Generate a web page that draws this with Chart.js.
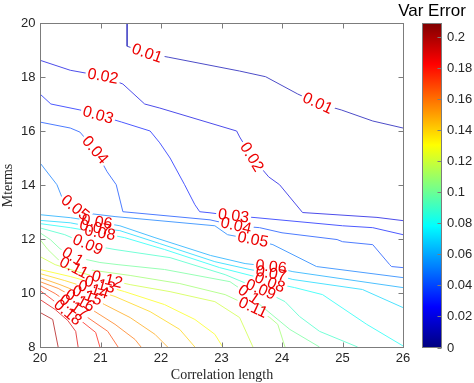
<!DOCTYPE html>
<html><head><meta charset="utf-8">
<script src="https://cdn.jsdelivr.net/npm/chart.js@4/dist/chart.umd.min.js"></script>
<style>html,body{margin:0;padding:0;background:#fff;}canvas{display:block;}</style>
</head><body>
<canvas id="c" width="474" height="383"></canvas>
<script>
// ---- data ----
const xTicks = [20, 21, 22, 23, 24, 25, 26];
const yTicks = [8, 10, 12, 14, 16, 18, 20];
const cbarTicks = [0, 0.02, 0.04, 0.06, 0.08, 0.1, 0.12, 0.14, 0.16, 0.18, 0.2];
const cbarTickLabels = ['0', '0.02', '0.04', '0.06', '0.08', '0.1', '0.12', '0.14', '0.16', '0.18', '0.2'];
const cbarMax = 0.209;
const xTitle = 'Correlation length';
const yTitle = 'Mterms';
const cbarTitle = 'Var Error';
const levels = [0.01, 0.02, 0.03, 0.04, 0.05, 0.06, 0.07, 0.08, 0.09, 0.10,
                0.11, 0.12, 0.13, 0.14, 0.15, 0.16, 0.17, 0.18, 0.19, 0.20];

const c01 = [[21.44,20],[21.44,19.14],[21.77,18.88],[22.13,18.73],[23.30,18.22],[23.73,18.01],[24.26,17.37],[24.59,17.03],[24.98,16.78],[25.50,16.37],[26,16.11]];
const c02 = [[20,18.62],[20.50,18.25],[21.04,18.03],[21.37,17.74],[21.73,17.00],[21.98,16.85],[23.25,16.00],[23.30,15.78],[23.50,15.04],[23.78,14.30],[23.96,14.01],[24.34,12.98],[25.57,12.80],[26,12.68]];
const c03 = [[20,17.37],[20.18,17.00],[20.66,16.78],[20.96,16.59],[21.35,16.33],[21.82,16.00],[21.98,15.56],[22.15,15.00],[22.39,14.01],[22.56,13.27],[22.64,13.01],[22.81,12.97],[23.20,12.86],[23.57,12.79],[25.00,12.49],[25.50,12.42],[26,12.16]];
const c04 = [[20,16.33],[20.50,16.11],[20.66,15.96],[20.91,15.30],[21.11,14.49],[21.26,14.01],[21.37,13.01],[22.81,12.71],[23.24,12.49],[23.63,12.42],[24.00,12.23],[24.91,11.98],[25.00,11.90],[25.50,11.79],[25.78,11.05],[25.81,10.98],[26,10.94]];
const c05 = [[20,14.82],[20.28,14.01],[20.36,13.56],[20.58,13.16],[20.83,12.94],[21.24,12.83],[22.89,12.49],[23.10,12.16],[23.52,11.98],[23.85,11.79],[24.57,10.98],[26,10.57]];
const c06 = [[20,12.90],[20.50,12.79],[20.94,12.64],[21.32,12.49],[21.90,12.05],[22.82,11.39],[23.39,11.09],[23.82,10.98],[24.18,10.79],[26,10.20]];
const c07 = [[20,12.69],[20.50,12.60],[20.91,12.42],[21.32,12.31],[21.98,11.83],[22.89,11.16],[23.47,10.87],[23.82,10.72],[24.18,10.50],[25.33,10.13],[26,9.46]];
const c08 = [[20,12.57],[20.50,12.42],[20.99,12.23],[21.40,12.05],[22.06,11.61],[22.97,10.94],[23.55,10.61],[23.80,10.39],[24.21,10.20],[24.67,9.94],[25.40,8.84],[26,8.04]];
const c09 = [[20,12.41],[20.41,12.16],[20.79,11.79],[21.24,11.61],[22.15,11.31],[23.06,10.68],[23.65,10.13],[24.05,9.68],[24.29,9.13],[24.62,8.58],[25.25,8]];
const c10 = [[20,12.23],[20.17,11.98],[20.33,11.64],[20.54,11.35],[20.99,11.13],[21.29,11.05],[22.06,10.87],[23.14,10.42],[23.45,9.94],[23.67,9.50],[24.13,8.65],[24.62,8]];
const c11 = [[20,11.98],[20.13,11.61],[20.30,11.24],[20.56,10.94],[20.91,10.83],[21.49,10.65],[22.31,10.35],[23.06,9.94],[23.52,9.46],[23.80,9.09],[23.93,8.84],[24.05,8]];
const c12 = [[20,11.35],[20.25,11.05],[20.66,10.76],[21.11,10.50],[21.49,10.31],[22.15,10.05],[22.89,9.68],[23.30,9.09],[23.52,8]];
const c13 = [[20,10.87],[20.50,10.61],[20.99,10.31],[21.40,10.05],[22.06,9.57],[22.56,9.02],[22.89,8.47],[23.02,8]];
const c14 = [[20,10.72],[20.41,10.46],[20.88,10.13],[21.24,9.87],[21.82,9.31],[22.31,8.65],[22.56,8]];
const c15 = [[20,10.57],[20.33,10.31],[20.78,9.91],[21.07,9.57],[21.49,9.09],[21.90,8.47],[22.11,8]];
const c16 = [[20,10.42],[20.30,10.17],[20.66,9.72],[20.91,9.31],[21.24,8.84],[21.57,8.28],[21.67,8]];
const c17 = [[20,10.28],[20.25,9.98],[20.56,9.50],[20.79,9.09],[21.12,8.58],[21.29,8]];
const c18 = [[20,10.09],[20.20,9.76],[20.46,9.28],[20.69,8.95],[20.92,8.54],[20.99,8]];
const c19 = [[20,9.76],[20.25,9.39],[20.46,8.98],[20.59,8.58],[20.63,8]];
const c20 = [[20,9.28],[20.21,9.02],[20.30,8]];
const contourLines = [c01,c02,c03,c04,c05,c06,c07,c08,c09,c10,c11,c12,c13,c14,c15,c16,c17,c18,c19,c20];

// contour label anchors: [level, x, y]
const labelAnchors = [
  [0.01,21.77,18.88],[0.01,24.59,17.03],
  [0.02,21.04,18.03],[0.02,23.50,15.04],
  [0.03,20.96,16.59],[0.03,23.20,12.86],
  [0.04,20.91,15.30],[0.04,23.24,12.49],
  [0.05,20.58,13.16],[0.05,23.52,11.98],
  [0.06,20.94,12.64],[0.06,23.82,10.98],
  [0.07,20.91,12.42],[0.07,23.82,10.72],
  [0.08,20.99,12.23],[0.08,23.80,10.39],
  [0.09,20.79,11.79],[0.09,23.65,10.13],
  [0.10,20.54,11.35],[0.10,23.45,9.94],
  [0.11,20.56,10.94],[0.11,23.52,9.46],
  [0.12,21.11,10.50],[0.13,20.99,10.31],[0.14,20.88,10.13],
  [0.15,20.78,9.91],[0.16,20.66,9.72],[0.17,20.56,9.50],[0.18,20.46,9.28]
];

// ---- helpers ----
function jet(t){
  t = Math.max(0, Math.min(1, t));
  const f = v => Math.max(0, Math.min(1, v));
  return [f(1.5-Math.abs(4*t-3)), f(1.5-Math.abs(4*t-2)), f(1.5-Math.abs(4*t-1))].map(v => Math.round(v*255));
}
function rgb(a){ return 'rgb(' + a.join(',') + ')'; }
function soft(a, k){ return a.map(v => Math.round(v + (255 - v) * k)); }
const LABEL_FONT = '16px "Liberation Sans", Arial, sans-serif';
function levelIndex(l){ return levels.findIndex(v => Math.abs(v-l) < 1e-9); }

function labelGeoms(chart, idx){
  const xs = chart.scales.x, ys = chart.scales.y, ctx = chart.ctx;
  const pts = contourLines[idx].map(p => [xs.getPixelForValue(p[0]), ys.getPixelForValue(p[1])]);
  const out = [];
  labelAnchors.forEach(a => {
    if (levelIndex(a[0]) !== idx) return;
    const px = xs.getPixelForValue(a[1]), py = ys.getPixelForValue(a[2]);
    let best = 1e9, ang = 0;
    for (let i = 0; i < pts.length-1; i++){
      const [x1,y1] = pts[i], [x2,y2] = pts[i+1];
      const dx = x2-x1, dy = y2-y1, L2 = dx*dx+dy*dy || 1;
      let t = ((px-x1)*dx + (py-y1)*dy)/L2; t = Math.max(0, Math.min(1, t));
      const qx = x1+t*dx, qy = y1+t*dy, d = Math.hypot(px-qx, py-qy);
      if (d < best){ best = d; ang = Math.atan2(dy, dx); }
    }
    if (ang > Math.PI/2) ang -= Math.PI;
    if (ang < -Math.PI/2) ang += Math.PI;
    const text = String(a[0]);
    ctx.save(); ctx.font = LABEL_FONT; const w = ctx.measureText(text).width + 4; ctx.restore();
    out.push({px, py, ang, text, w, h: 14});
  });
  return out;
}

const contourLabels = {
  id: 'contourLabels',
  beforeDatasetDraw(chart, args){
    const ctx = chart.ctx;
    const g = labelGeoms(chart, args.index);
    ctx.save();
    if (!g.length) return;
    ctx.beginPath();
    ctx.rect(0, 0, chart.width, chart.height);
    g.forEach(o => {
      const c = Math.cos(o.ang), s = Math.sin(o.ang), hw = o.w/2, hh = o.h/2;
      const corners = [[-hw,-hh],[-hw,hh],[hw,hh],[hw,-hh]].map(([u,v]) => [o.px + u*c - v*s, o.py + u*s + v*c]);
      ctx.moveTo(corners[0][0], corners[0][1]);
      for (let k = 1; k < 4; k++) ctx.lineTo(corners[k][0], corners[k][1]);
      ctx.closePath();
    });
    ctx.clip('evenodd');
  },
  afterDatasetDraw(chart){ chart.ctx.restore(); },
  afterDatasetsDraw(chart){
    const ctx = chart.ctx;
    ctx.save();
    ctx.font = LABEL_FONT; ctx.fillStyle = 'rgb(236,0,0)';
    ctx.textAlign = 'center'; ctx.textBaseline = 'middle';
    levels.forEach((l, i) => {
      labelGeoms(chart, i).forEach(o => {
        ctx.save(); ctx.translate(o.px, o.py); ctx.rotate(o.ang);
        ctx.fillText(o.text, 0, 0.5); ctx.restore();
      });
    });
    ctx.restore();
  }
};

const frame = {
  id: 'frame',
  afterDraw(chart){
    const ctx = chart.ctx, a = chart.chartArea, xs = chart.scales.x, ys = chart.scales.y;
    const L = Math.round(a.left)+0.5, R = Math.round(a.right)+0.5, T = Math.round(a.top)+0.5, B = Math.round(a.bottom)+0.5;
    ctx.save();
    ctx.strokeStyle = '#7c7c7c'; ctx.lineWidth = 1;
    ctx.strokeRect(L, T, R-L, B-T);
    ctx.beginPath();
    const tl = 5;
    xTicks.forEach(v => { const p = Math.round(xs.getPixelForValue(v))+0.5;
      ctx.moveTo(p, B); ctx.lineTo(p, B-tl); ctx.moveTo(p, T); ctx.lineTo(p, T+tl); });
    yTicks.forEach(v => { const p = Math.round(ys.getPixelForValue(v))+0.5;
      ctx.moveTo(L, p); ctx.lineTo(L+tl, p); ctx.moveTo(R, p); ctx.lineTo(R-tl, p); });
    ctx.stroke();

    ctx.fillStyle = '#262626';
    ctx.font = '13px "Liberation Sans", Arial, sans-serif';
    ctx.textAlign = 'center'; ctx.textBaseline = 'middle';
    xTicks.forEach(v => ctx.fillText(String(v), xs.getPixelForValue(v), B + 11));
    ctx.textAlign = 'right';
    yTicks.forEach(v => ctx.fillText(String(v), L - 5, ys.getPixelForValue(v)));

    ctx.font = '14px "Liberation Serif", "Times New Roman", serif';
    ctx.textAlign = 'center'; ctx.textBaseline = 'middle';
    ctx.fillText(xTitle, (L+R)/2, 375);
    ctx.save(); ctx.translate(8, (T+B)/2); ctx.rotate(-Math.PI/2);
    ctx.fillText(yTitle, 0, 0); ctx.restore();

    // colorbar
    const cx0 = 422, cx1 = 441;
    const grad = ctx.createLinearGradient(0, B, 0, T);
    for (let i = 0; i <= 64; i++) grad.addColorStop(i/64, rgb(jet(i/64)));
    ctx.fillStyle = grad;
    ctx.fillRect(cx0, T, cx1-cx0, B-T);
    ctx.strokeStyle = '#7c7c7c';
    ctx.strokeRect(cx0+0.5, T, cx1-cx0, B-T);
    ctx.beginPath();
    ctx.fillStyle = '#262626';
    ctx.font = '13px "Liberation Sans", Arial, sans-serif';
    ctx.textAlign = 'left'; ctx.textBaseline = 'middle';
    cbarTicks.forEach((v, i) => {
      const y = Math.round(B - v/cbarMax*(B-T)) + 0.5;
      ctx.moveTo(cx1+0.5, y); ctx.lineTo(cx1-3.5, y);
      ctx.fillText(cbarTickLabels[i], cx1 + 6, y);
    });
    ctx.stroke();
    ctx.fillStyle = '#000';
    ctx.font = '17px "Liberation Sans", Arial, sans-serif';
    ctx.textAlign = 'center'; ctx.textBaseline = 'alphabetic';
    ctx.fillText(cbarTitle, 432, 16);
    ctx.restore();
  }
};

const datasets = contourLines.map((pts, i) => ({
  label: String(levels[i]),
  data: pts.map(p => ({x: p[0], y: p[1]})),
  showLine: true, pointRadius: 0, borderWidth: 1,
  borderColor: rgb(soft(jet(levels[i]/cbarMax), 0.3)), fill: false, tension: 0
}));

new Chart(document.getElementById('c'), {
  type: 'scatter',
  data: { datasets },
  options: {
    responsive: false, animation: false, devicePixelRatio: 1,
    layout: { padding: { left: 40, right: 71, top: 23, bottom: 36 } },
    plugins: { legend: { display: false }, tooltip: { enabled: false } },
    scales: {
      x: { type: 'linear', min: 20, max: 26, display: false },
      y: { type: 'linear', min: 8, max: 20, display: false }
    }
  },
  plugins: [contourLabels, frame]
});
</script>
</body></html>
